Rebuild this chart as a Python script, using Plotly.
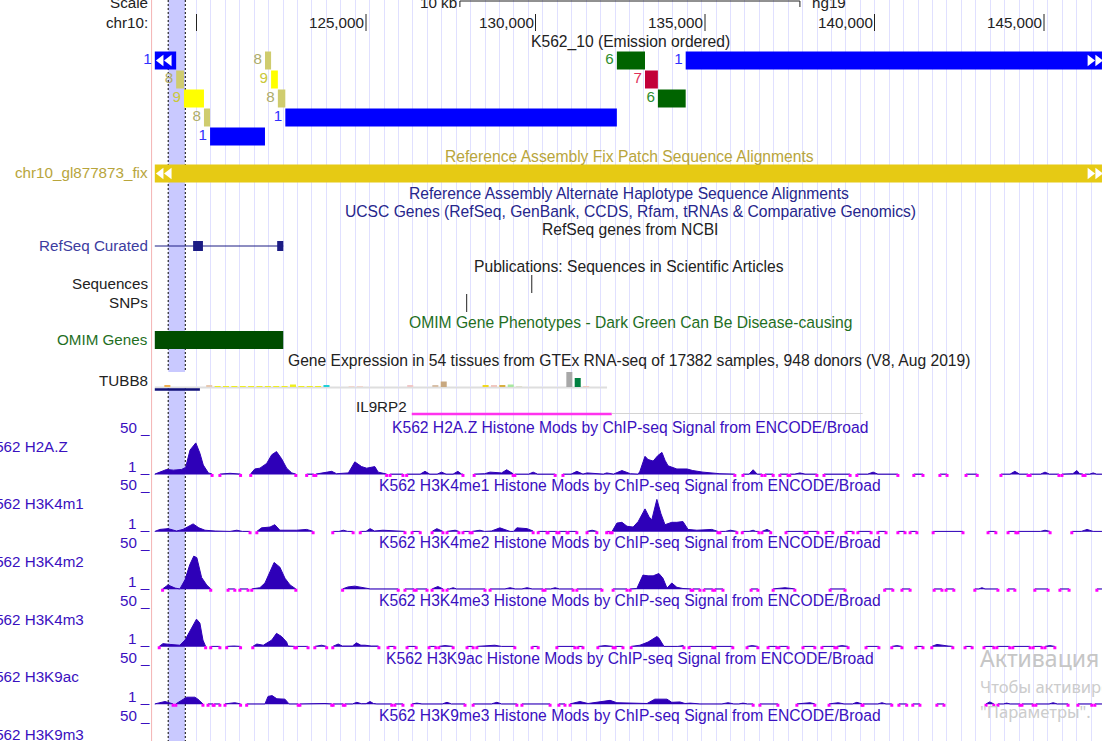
import plotly.graph_objects as go

W, H = 1102, 741
KB_LEFT, KB_RIGHT = 114.2035, 146.711
FONT = "Liberation Sans"
SIGNAL = "#2e00b8"
NAVY = "#1c1c84"
SIDE_SIZE = 15.2
TITLE_SIZE = 15.65

# ruler
ruler_kb = [120, 125, 130, 135, 140, 145]
ruler_labels = ["", "125,000", "130,000", "135,000", "140,000", "145,000"]
grid_kb = [120 + i * 0.4257 for i in range(64)]

# chromatin state blocks (K562_10)
state_start = [118.77, 119.40, 119.63, 120.22, 120.40, 122.02, 122.20, 122.40, 122.62, 132.40, 133.23, 133.61, 134.43]
state_end = [119.40, 119.63, 120.22, 120.40, 122.02, 122.20, 122.40, 122.62, 132.40, 133.23, 133.61, 134.43, 146.71]
state_row = [0, 1, 2, 3, 4, 0, 1, 2, 3, 0, 1, 2, 0]
state_name = ["1", "8", "9", "8", "1", "8", "9", "8", "1", "6", "7", "6", "1"]
state_fill = {"1": "#0000ff", "6": "#006400", "7": "#c2003a", "8": "#cfcc6e", "9": "#ffff00"}
state_text = {"1": "#3030ff", "6": "#2f8f2f", "7": "#e0305a", "8": "#aeac6a", "9": "#c9c83a"}

# GTEx tissue medians for TUBB8, one per tissue
gtex_val = [0, 1.5, 0, 0, 0, 0, 1.5, 1, 1, 1, 1, 1, 1, 1, 1, 1, 2.5, 1, 1, 1, 2, 0, 0, 1, 1, 0, 0,
            0, 0, 0, 2, 0, 0, 1.5, 5.5, 0, 0, 0, 0, 1.5, 1.5, 1.5, 2.5, 1, 0, 0, 0, 0, 0, 15, 9, 1, 0, 0]
gtex_colors = {1: "#f0b050", 6: "#e8c8b0", 20: "#20d0d8", 23: "#f0d8d0", 24: "#f0d8d0", 30: "#f0c8c8",
               33: "#d8c0a8", 34: "#c8a880", 39: "#f0d820", 40: "#f0c8c0", 41: "#d8b040", 42: "#a8e8a0",
               43: "#e0e0d0", 49: "#a8a8a8", 50: "#008040", 51: "#f0c8c0"}
GTEX_START, GTEX_END = 118.77, 132.11

# histone signals, None breaks the wiggle where there is no data
h2az_kb = [118.77, 118.97, 119.12, 119.32, 119.56, 119.68, 119.81, 119.98, 120.10, 120.20, 120.35, 120.46, None,
           120.69, 120.99, 121.30, None,
           121.60, 121.72, 121.87, 122.07, 122.22, 122.36, 122.51, 122.66, 122.81, 122.93, None,
           123.25, 123.46, None,
           123.52, 123.79, 123.99, 124.13, 124.48, 124.67, 124.87, 125.02, 125.26, 125.36, 125.56, 125.61, None,
           125.71, 126.09, None, 126.2, 126.6, 126.74, 126.88, 127.1, 127.23, 127.36, 127.57, 127.71, 127.82, 127.86, None,
           128.19, 128.5, 128.66, 128.85, 129.0, 129.15, 129.34, None,
           129.39, 129.8, 129.93, 130.06, 130.58, None,
           130.81, 131.05, 131.22, 131.4, 131.52, 132.0, 132.1, 132.3, 132.55, 132.8, 133.03, 133.08, 133.23, 133.32,
           133.47, 133.61, 133.73, 133.82, 133.91, 134.17, 134.47, 134.64, 134.94, 135.44, 135.88, None,
           136.12, 136.3, 136.42, 136.54, 136.68, None,
           136.77, 137.01, None, 137.21, 137.45, None,
           137.5, 137.65, 137.8, 137.95, 138.3, None, 138.51, 139.28, None,
           139.48, 139.8, 139.96, 140.1, 140.69, None, 141.16, 141.43, None, 141.93, 142.14, None, 142.7, 143.03, None,
           143.73, 144.0, 144.14, 144.28, 144.53, None, 144.59, 144.9, 145.03, 145.16, 145.44, None,
           145.53, 145.85, 145.97, 146.05, 146.15, None,
           146.21, 146.35, 146.45, 146.55, 146.71]
h2az_val = [0.5, 3.4, 6.4, 5.5, 6.4, 9, 31, 40, 27, 12, 2, 0.5, None,
            0.5, 1.5, 0.5, None,
            1, 7, 8, 14, 25, 29, 20, 8, 2, 0.5, None,
            0.5, 0.5, None,
            0.5, 2, 4, 1, 2, 16, 10, 8, 10, 3, 1, 0.5, None,
            0.5, 0.5, None, 0.5, 0.5, 4, 0.5, 0.5, 3, 0.5, 0.5, 4, 0.5, 0.5, None,
            0.5, 1, 3, 2, 2, 6, 1, None,
            0.5, 0.5, 3, 0.5, 0.5, None,
            0.5, 0.5, 4, 0.5, 2, 0.5, 2, 0.5, 5, 1, 0.5, 4, 23, 19,
            17, 24, 28, 18, 11, 7, 7, 5, 3, 1, 0.5, None,
            0.5, 0.5, 6, 0.5, 0.5, None,
            0.5, 0.5, None, 0.5, 0.5, None,
            0.5, 0.5, 2, 0.5, 0.5, None, 0.5, 0.5, None,
            0.5, 0.5, 3, 0.5, 0.5, None, 0.5, 0.5, None, 0.5, 0.5, None, 0.5, 0.5, None,
            0.5, 0.5, 4, 0.5, 0.5, None, 0.5, 0.5, 3, 0.5, 0.5, None,
            0.5, 1, 5, 1, 0.5, None,
            0.5, 0.5, 2, 0.5, 0.5]

h3k4m1_kb = [118.77, 118.92, 119.16, 119.41, 119.6, 119.9, 120.07, 120.25, 120.55, 120.99, 121.19, 121.35, 121.58, None,
             121.78, 121.92, 122.17, 122.31, 122.46, 122.7, 122.95, 123.25, 123.44, None,
             124.02, 124.2, 124.33, 124.46, 124.62, None,
             124.83, 125.0, 125.12, 125.25, 125.5, 125.95, 126.15, None,
             126.36, 126.6, None, 126.95, 127.09, 127.27, None, 127.39, 127.63, 127.74, None, 127.86, 128.07, None,
             128.13, 128.36, 128.5, 128.7, 128.95, 129.16, 129.25, 129.35, 129.45, 129.75, 129.93, None,
             130.08, 130.34, None, 130.37, 130.63, None, 130.69, 130.93, None, 130.96, 131.22, None,
             131.52, 131.67, 131.81, None, 132.1, 132.2, None,
             132.26, 132.4, 132.55, 132.7, 132.88, 133.03, 133.23, 133.35, 133.43, 133.58, 133.7, 133.82,
             134.02, 134.17, 134.35, 134.5, 134.76, 135.2, 135.38, None,
             135.44, 135.6, 135.75, 135.9, 135.94, None,
             136.1, 136.3, 136.42, 136.5, 136.59, None, 136.68, 136.83, 136.94, None,
             137.39, 137.95, None, 138.01, 138.33, None, 138.57, 138.77, None, 139.16, 139.37, None,
             139.51, 139.9, None, 140.1, 140.34, None, 140.69, 140.9, None, 141.05, 141.25, None,
             141.73, 142.61, None, 143.35, 143.58, None, 143.94, 144.17, None,
             144.23, 144.9, 145.03, 145.12, 145.18, None, 145.82, 146.1, 146.27, 146.45, 146.71]
h3k4m1_val = [0.5, 3, 4, 1, 3, 10, 5, 2, 1, 0.5, 2, 0.5, 0.5, None,
              0.5, 5, 6, 9, 2, 2, 2, 3, 0.5, None,
              0.5, 0.5, 2, 0.5, 0.5, None,
              0.5, 0.5, 4, 1, 2, 0.5, 0.5, None,
              0.5, 0.5, None, 0.5, 4, 0.5, None, 0.5, 2, 0.5, None, 0.5, 0.5, None,
              0.5, 2, 0.5, 1, 5, 2, 0.5, 0.5, 5, 4, 1, None,
              0.5, 0.5, None, 0.5, 0.5, None, 0.5, 0.5, None, 0.5, 0.5, None,
              0.5, 2, 0.5, None, 0.5, 0.5, None,
              0.5, 11, 12, 7, 6, 13, 29, 19, 15, 41, 23, 9,
              12, 12, 13, 3, 2, 3, 0.5, None,
              0.5, 0.5, 2, 0.5, 0.5, None,
              0.5, 0.5, 2, 0.5, 0.5, None, 0.5, 3, 0.5, None,
              0.5, 0.5, None, 0.5, 0.5, None, 0.5, 0.5, None, 0.5, 0.5, None,
              0.5, 0.5, None, 0.5, 0.5, None, 0.5, 0.5, None, 0.5, 0.5, None,
              0.5, 0.5, None, 0.5, 0.5, None, 0.5, 0.5, None,
              0.5, 0.5, 2, 0.5, 0.5, None, 0.5, 0.5, 3, 0.5, 0.5]

h3k4m2_kb = [119.0, 119.16, 119.37, 119.51, 119.66, 119.8, 119.92, 120.01, 120.15, 120.3, 120.42, None,
             120.93, 121.13, None, 121.28, 121.52, None,
             121.63, 121.87, 122.02, 122.17, 122.29, 122.46, 122.61, 122.76, 122.93, None,
             124.31, 124.47, 124.67, 124.87, 125.12, 125.95, None,
             126.15, 126.42, None, 126.48, 126.8, None, 126.95, 127.12, 127.27, None,
             127.39, 127.47, 127.57, 127.67, 128.51, None,
             128.66, 129.1, 129.25, 129.4, 129.6, 129.75, 129.9, 130.22, None,
             130.28, 130.45, 130.58, 130.7, 131.11, None, 131.22, 131.96, None, 132.29, 132.7, None,
             132.79, 132.99, 133.17, 133.32, 133.47, 133.64, 133.76, 133.88, 134.02, 134.17, 134.35, 134.59, None,
             134.64, 134.85, None, 134.97, 135.23, None, 135.29, 135.53, None, 136.36, 136.56, None,
             137.01, 137.21, 137.36, 137.65, None,
             138.69, 139.13, None, 140.3, 140.54, None, 140.81, 141.05, None, 141.76, 141.99, None,
             142.11, 142.34, None, 142.96, 143.08, 143.17, 143.26, 143.64, None,
             143.94, 144.14, None, 144.73, 145.12, None,
             145.47, 145.74, None, 146.56, 146.71]
h3k4m2_val = [0.5, 5.5, 1.5, 0.5, 12, 31, 42, 40, 15, 5.5, 0.5, None,
              0.5, 0.5, None, 0.5, 0.5, None,
              0.5, 2, 8, 23, 34, 28, 14, 5.5, 0.5, None,
              0.5, 3, 4, 2.5, 0.5, 0.5, None,
              0.5, 0.5, None, 0.5, 0.5, None, 0.5, 3.5, 0.5, None,
              0.5, 0.5, 2, 0.5, 0.5, None,
              0.5, 0.5, 2, 0.5, 0.5, 2, 0.5, 0.5, None,
              0.5, 0.5, 2, 0.5, 0.5, None, 0.5, 0.5, None, 0.5, 0.5, None,
              0.5, 1, 18, 17, 17, 20, 14, 1.5, 8, 2.5, 1, 0.5, None,
              0.5, 0.5, None, 0.5, 0.5, None, 0.5, 0.5, None, 0.5, 0.5, None,
              0.5, 1, 2, 0.5, None,
              0.5, 0.5, None, 0.5, 0.5, None, 0.5, 0.5, None, 0.5, 0.5, None,
              0.5, 0.5, None, 0.5, 0.5, 2, 0.5, 0.5, None,
              0.5, 0.5, None, 0.5, 0.5, None,
              0.5, 0.5, None, 0.5, 0.5]

h3k4m3_kb = [118.9, 119.01, 119.22, 119.51, 119.66, 119.86, 120.0, 120.1, 120.19, 120.27, None,
             120.42, 120.69, None, 120.89, 121.1, 121.3, None,
             121.66, 121.78, 121.97, 122.22, 122.36, 122.51, 122.66, 122.7, 122.9, None,
             122.95, 123.29, None, 123.49, 123.69, 123.84, None,
             124.02, 124.18, 124.3, 124.6, 124.72, 124.85, 124.97, 125.15, 125.35, 125.38, None, 125.65, 125.85, None,
             126.21, 126.48, None, 126.86, 127.06, None, 127.15, 127.33, 127.57, None,
             127.98, 128.16, None, 128.27, 128.51, 128.8, 129.0, 129.39, None,
             129.9, 130.08, None, 130.63, 131.16, None, 131.25, 131.4, None, 131.84, 132.05, 132.29, None,
             132.35, 132.58, None, 132.82, 133.08, 133.32, 133.58, 133.64, 133.79, 134.2, 134.35, 134.38, None,
             134.53, 135.23, None, 135.29, 135.82, None, 136.24, 136.39, 136.56, None,
             136.86, 137.12, None, 137.18, 137.45, None,
             137.89, 138.24, None, 138.45, 138.83, None, 138.89, 139.04, 139.22, None,
             139.75, 140.13, None, 140.51, 140.66, 140.81, None, 141.22, 141.43, None,
             141.69, 141.84, 142.17, 142.31, None, 142.67, 142.88, None, 143.23, 143.52, None,
             143.61, 143.99, None, 144.08, 144.59, None, 144.68, 144.94, None, 145.03, 145.17, 145.32]
h3k4m3_val = [0.5, 4, 3, 2, 8.5, 23, 35, 30, 8.5, 0.5, None,
              0.5, 0.5, None, 0.5, 1, 0.5, None,
              0.5, 3.5, 2, 8.5, 17, 13, 6, 1, 0.5, None,
              0.5, 0.5, None, 0.5, 2, 0.5, None,
              0.5, 3.5, 1, 1, 5, 2, 2, 1, 1, 0.5, None, 0.5, 0.5, None,
              0.5, 0.5, None, 0.5, 0.5, None, 0.5, 1.5, 0.5, None,
              0.5, 0.5, None, 0.5, 1, 2, 0.5, 0.5, None,
              0.5, 0.5, None, 0.5, 0.5, None, 0.5, 0.5, None, 0.5, 1.5, 0.5, None,
              0.5, 0.5, None, 0.5, 2, 6, 13, 11, 0.5, 0.5, 1.5, 0.5, None,
              0.5, 0.5, None, 0.5, 0.5, None, 0.5, 1.5, 0.5, None,
              0.5, 0.5, None, 0.5, 0.5, None,
              0.5, 0.5, None, 0.5, 0.5, None, 0.5, 1.5, 0.5, None,
              0.5, 0.5, None, 0.5, 1.5, 0.5, None, 0.5, 0.5, None,
              0.5, 3, 1, 0.5, None, 0.5, 0.5, None, 0.5, 0.5, None,
              0.5, 0.5, None, 0.5, 0.5, None, 0.5, 0.5, None, 0.5, 1.5, 0.5]

h3k9ac_kb = [118.77, 118.92, 119.07, 119.31, None,
             119.39, 119.56, 119.71, 119.95, 120.04, 120.19, None,
             120.34, 120.49, None, 120.52, 120.69, None, 120.84, 121.13, 121.3, None,
             121.48, 122.02, 122.11, 122.23, 122.37, 122.61, 122.73, 123.0, None,
             123.05, 123.49, 123.79, 123.99, None, 124.03, 124.33, None,
             124.38, 124.6, 124.73, 124.86, 125.0, 125.12, 125.22, 125.32, 125.76, None, 125.85, 126.09, None,
             126.36, 126.5, 126.65, 127.25, 127.39, 127.52, 127.92, None,
             128.16, 128.7, 128.86, 129.0, 129.45, None, 129.6, 130.43, None, 130.69, 130.87, None,
             131.02, 131.31, 131.55, 132.2, 132.4, 132.79, 133.29, 133.52, 133.88, 134.02, 134.26, 134.41, 134.56,
             134.85, 135.5, 135.68, 135.85, 136.0, 136.12, 136.25, 136.42, None,
             136.62, 137.15, None, 137.71, 138.1, 138.24, None,
             138.66, 138.93, 139.1, 139.35, 139.48, 139.63, None, 139.66, 140.1, 140.22, 140.34, 140.51, None,
             140.72, 140.95, None, 141.13, 141.34, None, 141.84, 142.05, None, 143.29, 143.4, 143.52, None,
             143.64, 143.8, 143.9, 144.0, 144.29, None, 144.35, 144.68, None,
             144.76, 145.15, 145.27, 145.39, 145.71, None,
             146.0, 146.41, None, 146.5, 146.71]
h3k9ac_val = [0.5, 2, 3.5, 0.5, None,
              0.5, 5, 9, 9, 6.5, 0.5, None,
              0.5, 0.5, None, 0.5, 0.5, None, 0.5, 2, 0.5, None,
              0.5, 0.5, 10, 11, 7, 6.5, 0.5, 0.5, None,
              0.5, 1, 1, 0.5, None, 0.5, 0.5, None,
              0.5, 0.5, 2.5, 0.8, 0.8, 3.5, 1, 0.5, 0.5, None, 0.5, 0.5, None,
              0.5, 1.5, 0.5, 0.5, 2.5, 0.5, 0.5, None,
              0.5, 0.5, 2.5, 0.5, 0.5, None, 0.5, 0.5, None, 0.5, 0.5, None,
              0.5, 3.5, 1, 5, 2, 1.5, 1, 6.5, 6.5, 2.5, 3, 1, 1.5,
              0.5, 0.5, 2, 0.5, 0.5, 1.5, 0.5, 0.5, None,
              0.5, 0.5, None, 0.5, 2, 0.5, None,
              0.5, 2, 0.5, 0.5, 2.5, 0.5, None, 0.5, 0.5, 2, 0.5, 0.5, None,
              0.5, 0.5, None, 0.5, 0.5, None, 0.5, 0.5, None, 0.5, 3, 0.5, None,
              0.5, 0.5, 1.5, 0.5, 0.5, None, 0.5, 0.5, None,
              0.5, 0.5, 2, 0.5, 0.5, None,
              0.5, 0.5, None, 0.5, 0.5]

track_names = ["K562 H2A.Z", "K562 H3K4m1", "K562 H3K4m2", "K562 H3K4m3", "K562 H3K9ac", "K562 H3K9m3"]
track_titles = ["K562 H2A.Z Histone Mods by ChIP-seq Signal from ENCODE/Broad",
                "K562 H3K4me1 Histone Mods by ChIP-seq Signal from ENCODE/Broad",
                "K562 H3K4me2 Histone Mods by ChIP-seq Signal from ENCODE/Broad",
                "K562 H3K4me3 Histone Mods by ChIP-seq Signal from ENCODE/Broad",
                "K562 H3K9ac Histone Mods by ChIP-seq Signal from ENCODE/Broad",
                "K562 H3K9me3 Histone Mods by ChIP-seq Signal from ENCODE/Broad"]
signals = [(h2az_kb, h2az_val), (h3k4m1_kb, h3k4m1_val), (h3k4m2_kb, h3k4m2_val),
           (h3k4m3_kb, h3k4m3_val), (h3k9ac_kb, h3k9ac_val)]


def dom(top, bottom):
    return [1 - bottom / H, 1 - top / H]


def note(text, px, py, color="#222222", anchor="center", size=SIDE_SIZE, family=FONT):
    fig.add_annotation(text=text, x=px / W, y=1 - (py - 0.7) / H, xref="paper", yref="paper",
                       xanchor=anchor, yanchor="middle", showarrow=False, borderpad=0, borderwidth=0,
                       font=dict(family=family, size=size, color=color))


def hline(x0, x1, y, color, width=1):
    fig.add_trace(go.Scatter(x=[x0, x1], y=[y, y], mode="lines", line=dict(color=color, width=width),
                             hoverinfo="skip", showlegend=False))


def block(x0, x1, y, height, color):
    fig.add_trace(go.Bar(y=[y], x=[x1 - x0], base=[x0], width=[height], orientation="h",
                         marker=dict(color=color, line=dict(width=0)), hoverinfo="skip", showlegend=False))


def chevrons(xs, y, symbol, yaxis="y"):
    fig.add_trace(go.Scatter(x=xs, y=[y] * len(xs), yaxis=yaxis, mode="markers",
                             marker=dict(symbol=symbol, size=10, color="white", line=dict(width=0)),
                             hoverinfo="skip", showlegend=False))


def split_runs(kb, val):
    runs, cur = [], ([], [])
    for k, v in zip(kb, val):
        if k is None:
            runs.append(cur)
            cur = ([], [])
        else:
            cur[0].append(k)
            cur[1].append(v)
    runs.append(cur)
    return runs


fig = go.Figure()

# blocks and lines on the page axis
block(118.77, 146.71, 173.5, 18, "#e6ca14")
block(118.77, 122.56, 340, 18, "#004d00")
hline(118.77, 122.56, 246, NAVY)
block(119.90, 120.19, 246, 10, NAVY)
block(122.38, 122.56, 246, 10, NAVY)
for x, y0, y1 in [(127.97, 294, 312), (129.89, 275, 293)]:
    fig.add_trace(go.Scatter(x=[x, x], y=[y0, y1], mode="lines", line=dict(color="#222222", width=1),
                             hoverinfo="skip", showlegend=False))
for k in ruler_kb:
    fig.add_trace(go.Scatter(x=[k, k], y=[14, 31], mode="lines", line=dict(color="#222222", width=1),
                             hoverinfo="skip", showlegend=False))
# scale bar
fig.add_trace(go.Scatter(x=[127.77, 127.77, 137.8, 137.8], y=[7, 1, 1, 7], mode="lines",
                         line=dict(color="#222222", width=1), hoverinfo="skip", showlegend=False))
chevrons([118.95, 119.19], 173.5, "triangle-left")
chevrons([146.36, 146.59], 173.5, "triangle-right")

# GTEx panel sits on top of the highlight
fig.add_trace(go.Scatter(x=[GTEX_START, GTEX_END, GTEX_END, GTEX_START, GTEX_START], y=[372, 372, 388, 388, 372],
                         mode="lines", fill="toself", fillcolor="white", line=dict(width=0),
                         hoverinfo="skip", showlegend=False))
hline(GTEX_START, GTEX_END, 387.5, "#dedede", 2)
hline(118.77, 120.10, 389.5, "#101078", 2.5)
hline(126.35, 132.25, 414, "#ff33ee", 2.5)
hline(132.25, 139.65, 413.5, "#d4d4d4", 1)

# chromatin states
fig.add_trace(go.Bar(y=state_row, x=[e - s for s, e in zip(state_start, state_end)], base=state_start,
                     orientation="h", width=18 / 19, yaxis="y2",
                     marker=dict(color=[state_fill[s] for s in state_name], line=dict(width=0)),
                     hoverinfo="skip", showlegend=False))
fig.add_trace(go.Scatter(x=[s - 0.09 for s in state_start], y=state_row, yaxis="y2", mode="text", text=state_name,
                         textposition="middle left",
                         textfont=dict(family=FONT, size=SIDE_SIZE, color=[state_text[s] for s in state_name]),
                         hoverinfo="skip", showlegend=False, cliponaxis=False))
chevrons([118.95, 119.19], 0, "triangle-left", "y2")
chevrons([146.36, 146.59], 0, "triangle-right", "y2")

# GTEx bars
tissue_w = (GTEX_END - GTEX_START) / len(gtex_val)
fig.add_trace(go.Bar(x=[GTEX_START + (i + 0.5) * tissue_w for i in range(len(gtex_val))], y=gtex_val,
                     width=tissue_w * 0.72, yaxis="y3",
                     marker=dict(color=[gtex_colors.get(i, "#eeee22") for i in range(len(gtex_val))],
                                 line=dict(width=0)),
                     hoverinfo="skip", showlegend=False))

# histone wiggles, one trace per run so each fill closes on its own baseline
baselines = [474.5, 531.8, 589.3, 646.8, 704.3]
for n, (kb, val) in enumerate(signals):
    ya = "y%d" % (n + 4)
    ends = []
    for run_kb, run_val in split_runs(kb, val):
        fig.add_trace(go.Scatter(x=run_kb, y=run_val, yaxis=ya, mode="lines", fill="tozeroy", fillcolor=SIGNAL,
                                 line=dict(color=SIGNAL, width=1), hoverinfo="skip", showlegend=False))
        # magenta ticks where the wiggle stops and restarts
        for k in (run_kb[0], run_kb[-1]):
            if 118.8 < k < 146.7:
                ends.append(k)
    fig.add_trace(go.Scatter(x=ends, y=[-1.2] * len(ends), yaxis=ya, mode="markers",
                             marker=dict(symbol="square", size=3, color="#ff00ff", line=dict(width=0)),
                             hoverinfo="skip", showlegend=False, cliponaxis=False))

layout_axes = {
    "xaxis": dict(range=[KB_LEFT, KB_RIGHT], domain=[0, 1], tickvals=grid_kb, showticklabels=False, ticks="",
                  showgrid=True, gridcolor="#e0e0ff", gridwidth=1, zeroline=False, showline=False),
    "yaxis": dict(range=[H, 0], domain=[0, 1], visible=False),
    "yaxis2": dict(range=[4.5, -0.5], domain=dom(51, 146), visible=False, anchor="x"),
    "yaxis3": dict(range=[0, 15], domain=dom(372, 387), visible=False, anchor="x"),
}
for n, base in enumerate(baselines):
    top = base - 39.5
    layout_axes["yaxis%d" % (n + 4)] = dict(range=[-3.8, 50], domain=dom(top, base + 3), visible=False, anchor="x")

# highlight and browser rules
shapes = [
    dict(type="rect", xref="x", yref="y", x0=119.17, x1=119.66, y0=0, y1=H, fillcolor="#c9c9ff",
         line=dict(width=0), layer="below"),
    dict(type="line", xref="x", yref="y", x0=119.165, x1=119.165, y0=0, y1=H,
         line=dict(color="black", width=1, dash="2px,2px"), layer="below"),
    dict(type="line", xref="x", yref="y", x0=119.67, x1=119.67, y0=0, y1=H,
         line=dict(color="black", width=1, dash="2px,2px"), layer="below"),
    dict(type="line", xref="x", yref="y", x0=118.675, x1=118.675, y0=0, y1=H,
         line=dict(color="#f4b4b4", width=1), layer="below"),
]

fig.update_layout(width=W, height=H, margin=dict(l=0, r=0, t=0, b=0), paper_bgcolor="white",
                  plot_bgcolor="rgba(0,0,0,0)", barmode="overlay", showlegend=False, shapes=shapes,
                  font=dict(family=FONT), **layout_axes)

# side labels
note("Scale", 148, 3, anchor="right")
note("chr10:", 148, 23, anchor="right")
note("10 kb", 457, 3, anchor="right")
note("hg19", 812, 3, anchor="left")
note("chr10_gl877873_fix", 148, 173, "#b8a53c", "right")
note("RefSeq Curated", 148, 246, "#3c3ca0", "right")
note("Sequences", 148, 284, anchor="right")
note("SNPs", 148, 303, anchor="right")
note("OMIM Genes", 148, 340, "#1f6f1f", "right")
note("TUBB8", 148, 381, anchor="right")
note("IL9RP2", 407, 407, anchor="right")
for k, lab in zip(ruler_kb, ruler_labels):
    if lab:
        fig.add_annotation(text=lab, x=k, y=22, xref="x", yref="y", xanchor="right", yanchor="middle",
                           xshift=-2, showarrow=False, borderpad=0, borderwidth=0,
                           font=dict(family=FONT, size=SIDE_SIZE, color="#222222"))

# centre labels
note("K562_10 (Emission ordered)", 630, 43, size=TITLE_SIZE)
note("Reference Assembly Fix Patch Sequence Alignments", 629, 157, "#b8a53c", size=TITLE_SIZE)
note("Reference Assembly Alternate Haplotype Sequence Alignments", 629, 194, "#26268c", size=TITLE_SIZE)
note("UCSC Genes (RefSeq, GenBank, CCDS, Rfam, tRNAs &amp; Comparative Genomics)", 630, 212, "#26268c",
     size=TITLE_SIZE)
note("RefSeq genes from NCBI", 630, 230, size=TITLE_SIZE)
note("Publications: Sequences in Scientific Articles", 629, 267, size=TITLE_SIZE)
note("OMIM Gene Phenotypes - Dark Green Can Be Disease-causing", 630, 323, "#1f6f1f", size=TITLE_SIZE)
note("Gene Expression in 54 tissues from GTEx RNA-seq of 17382 samples, 948 donors (V8, Aug 2019)", 629, 361,
     size=TITLE_SIZE)

for i, (name, title) in enumerate(zip(track_names, track_titles)):
    note(title, 630, 428.3 + i * 57.6, "#3a10c0", size=TITLE_SIZE)
    note(name, -15, 447 + i * 57.6, "#3a10c0", "left")
    note("50 _", 150, 428 + i * 57.6, "#3a10c0", "right")
    if i < 5:
        note("1 _", 150, 466.7 + i * 57.6, "#3a10c0", "right")

# windows watermark
note("Активация Windows", 980, 659, "#c6c6c6", "left", 23, "Noto Sans")
note("Чтобы активировать Windows", 980, 687, "#cccccc", "left", 16.6, "Noto Sans")
note("\"Параметры\".", 980, 712, "#cccccc", "left", 16.6, "Noto Sans")

fig.write_html("out.html", config={"displayModeBar": False},
               post_script="document.body.style.margin='0';document.body.style.overflow='hidden';")
